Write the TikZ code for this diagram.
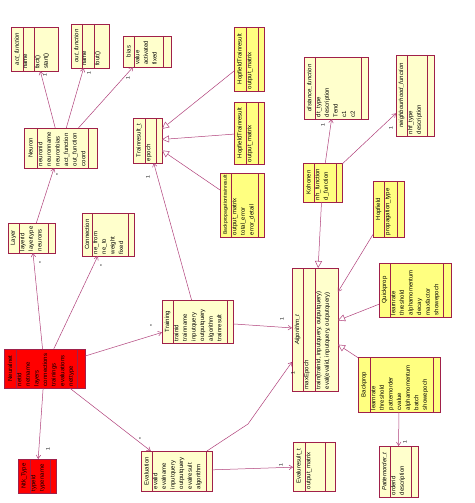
\documentclass[tikz,border=0pt]{standalone}
\usepackage{fontspec}
\setmainfont{Liberation Sans}
\usetikzlibrary{arrows.meta}
\definecolor{cream}{HTML}{FFFFCC}
\definecolor{yel}{HTML}{FFFF80}
\definecolor{rd}{HTML}{FF0000}
\definecolor{brd}{HTML}{A0204A}
\definecolor{lnk}{HTML}{B0407A}
\tikzset{
 umlbox/.style={draw=brd, line width=0.6pt, inner sep=0pt, outer sep=0pt},
 divline/.style={draw=brd, line width=0.6pt},
 utxt/.style={rotate=90, inner sep=0.8pt, font=\fontsize{6}{8.6}\selectfont, text=black},
 assoc/.style={draw=lnk, line width=0.5pt, -{Straight Barb[length=3.5pt,width=4.5pt]}},
 gen/.style={draw=lnk, line width=0.5pt, -{Triangle[open,length=7pt,width=7pt,fill=white]}},
 mult/.style={rotate=90, inner sep=0pt, font=\fontsize{5}{6}\selectfont},
}
% id, x0, y0, x1, y1, d1, d2, fill, title
\newcommand\ubox[9]{%
 \pgfmathsetmacro\uw{#4-#2}%
 \pgfmathsetmacro\uh{#5-#3}%
 \node[umlbox, fill=#8, minimum width=\uw pt, minimum height=\uh pt] (#1) at ({(#2+#4)/2},{(#3+#5)/2}) {};
 \draw[divline] (#6,#3) -- (#6,#5) (#7,#3) -- (#7,#5);
 \node[utxt] (#1-n) at ({(#2+#6)/2},{(#3+#5)/2}) {#9};
}
% id, x (divider), y (bottom), text
\newcommand\utext[4]{%
 \node[utxt, anchor=north west, align=left] (#1) at (#2,#3) {#4};
}
\begin{document}
\begin{tikzpicture}[x=1pt,y=-1pt]
\useasboundingbox (0,0) rectangle (474,503);
\fill[white] (0,0) rectangle (474,503);

% boxes
\ubox{actf}{11}{27}{58}{71}{23}{34}{cream}{\textit{act\_function}}
\utext{actf-a}{23}{70}{name}
\utext{actf-m}{34}{70}{fact()\\start()}

\ubox{outf}{71}{24}{109}{68}{82}{94}{cream}{\textit{out\_function}}
\utext{outf-a}{82}{67}{name}
\utext{outf-m}{94}{67}{fout()}

\ubox{bias}{123}{36}{171}{67}{134}{163}{cream}{bias}
\utext{bias-a}{134}{66}{value\\activated\\fixed}

\ubox{neuron}{24}{128}{97}{168}{37}{88}{cream}{Neuron}
\utext{neuron-a}{37}{167}{neuronid\\neuronname\\neuronbias\\act\_function\\out\_function\\coord}

\ubox{trainres}{133}{118}{162}{163}{145}{156}{cream}{Trainresult\_t}
\utext{trainres-a}{145}{162}{epoch}

\ubox{htra}{234}{27}{264}{91}{246}{258}{yel}{HopfieldTrainresult}
\utext{htra-a}{246}{90}{output\_matrix}

\ubox{htrb}{234}{102}{264}{164}{246}{258}{yel}{HopfieldTrainresult}
\utext{htrb-a}{246}{163}{output\_matrix}

\ubox{btr}{220}{173}{264}{237}{231}{258}{yel}{\fontsize{5}{6}\selectfont Backpropagationtrainresult}
\utext{btr-a}{231}{236}{output\_matrix\\total\_error\\error\_detail}

\ubox{layer}{8}{223}{55}{253}{19}{48}{cream}{Layer}
\utext{layer-a}{19}{252}{layerid\\layertype\\neurons}

\ubox{conn}{82}{213}{134}{256}{92}{128}{cream}{Connection}
\utext{conn-a}{92}{255}{ne\_from\\ne\_to\\weight\\fixed}

\ubox{net}{4}{349}{85}{388}{16}{77}{rd}{Neuralnet}
\utext{net-a}{16}{387}{netid\\netname\\layers\\connections\\trainings\\evaluations\\nettype}

\ubox{ntk}{18}{459}{56}{493}{30}{50}{rd}{Ntk\_Type}
\utext{ntk-a}{30}{492}{typeid\\typename}

\ubox{train}{162}{300}{233}{343}{173}{227}{cream}{Training}
\utext{train-a}{173}{342}{trainid\\trainname\\inputquery\\outputquery\\algorithm\\trainresult}

\ubox{eval}{141}{451}{212}{491}{152}{206}{cream}{Evaluation}
\utext{eval-a}{152}{490}{evalid\\evalname\\inputquery\\outputquery\\evalresult\\algorithm}

\ubox{evres}{293}{442}{335}{491}{305}{325}{cream}{Evaluresult\_t}
\utext{evres-a}{305}{490}{output\_matrix}

\ubox{alg}{292}{268}{338}{391}{303}{315}{cream}{\textit{Algorithm\_t}}
\utext{alg-a}{303}{390}{maxEpoch}
\utext{alg-m}{315}{390}{train(trainid, inputquery, outputquery)\\eval(evalid, inputquery, outputquery)}

\ubox{koh}{303}{163}{342}{202}{314}{336}{yel}{Kohonen}
\utext{koh-a}{314}{201}{nh\_function\\d\_function}

\ubox{dist}{304}{57}{368}{119}{315}{361}{cream}{\textit{distance\_function}}
\utext{dist-a}{315}{118}{dt\_type\\description\\Tend\\c1\\c2}

\ubox{nhf}{396}{55}{434}{136}{407}{427}{cream}{\textit{neighbourhood\_function}}
\utext{nhf-a}{407}{135}{nhf\_type\\description}

\ubox{hopf}{373}{181}{404}{237}{384}{397}{yel}{Hopfield}
\utext{hopf-a}{384}{236}{propagation\_type}

\ubox{qprop}{379}{263}{451}{317}{390}{443}{yel}{Quickprop}
\utext{qprop-a}{390}{316}{learnrate\\threshold\\alphamomentum\\decay\\maxfactor\\showepoch}

\ubox{bprop}{358}{357}{440}{412}{370}{433}{yel}{Backprop}
\utext{bprop-a}{370}{411}{learnrate\\threshold\\patternorder\\cvalue\\alphamomentum\\batch\\showepoch}

\ubox{pord}{379}{446}{418}{497}{390}{411}{cream}{\textit{Patternorder\_t}}
\utext{pord-a}{390}{496}{orderid\\description}

% connectors
\draw[assoc] (neuron) -- (actf);
\draw[assoc] (neuron) -- (outf);
\draw[assoc] (neuron) -- (bias);
\draw[assoc] (layer) -- (neuron);
\draw[assoc] (net) -- (layer);
\draw[assoc] (net) -- (conn);
\draw[assoc] (net) -- (train);
\draw[assoc] (net) -- (eval);
\draw[assoc] (net) -- (ntk);
\draw[assoc] (train) -- (trainres);
\draw[assoc] (train) -- (alg);
\coordinate (ebend) at (248,424);
\draw[assoc] (eval) -- (ebend) -- (alg);
\draw[assoc] (eval) -- (evres);
\draw[gen] (htra) -- (trainres);
\draw[gen] (htrb) -- (trainres);
\draw[gen] (btr) -- (trainres);
\draw[assoc] (koh) -- (dist);
\draw[assoc] (koh) -- (nhf);
\draw[gen] (koh) -- (alg);
\draw[assoc] (hopf) -- (alg);
\draw[gen] (qprop) -- (alg);
\draw[gen] (bprop) -- (alg);
\draw[assoc] (bprop) -- (pord);

% multiplicities
\node[mult] (m1) at (45,75) {1};
\node[mult] (m2) at (89,73) {1};
\node[mult] (m3) at (128,78) {1};
\node[mult] (m4) at (58,175) {*};
\node[mult] (m5) at (41,263) {*};
\node[mult] (m6) at (102,266) {*};
\node[mult] (m7) at (152,326) {*};
\node[mult] (m8) at (141,439) {*};
\node[mult] (m9) at (48,449) {1};
\node[mult] (m10) at (148,177) {1};
\node[mult] (m11) at (282,319) {1};
\node[mult] (m12) at (293,373) {1};
\node[mult] (m13) at (281,465) {1};
\node[mult] (m14) at (323,125) {1};
\node[mult] (m15) at (391,128) {1};
\node[mult] (m16) at (405,442) {1};
\end{tikzpicture}
\end{document}
